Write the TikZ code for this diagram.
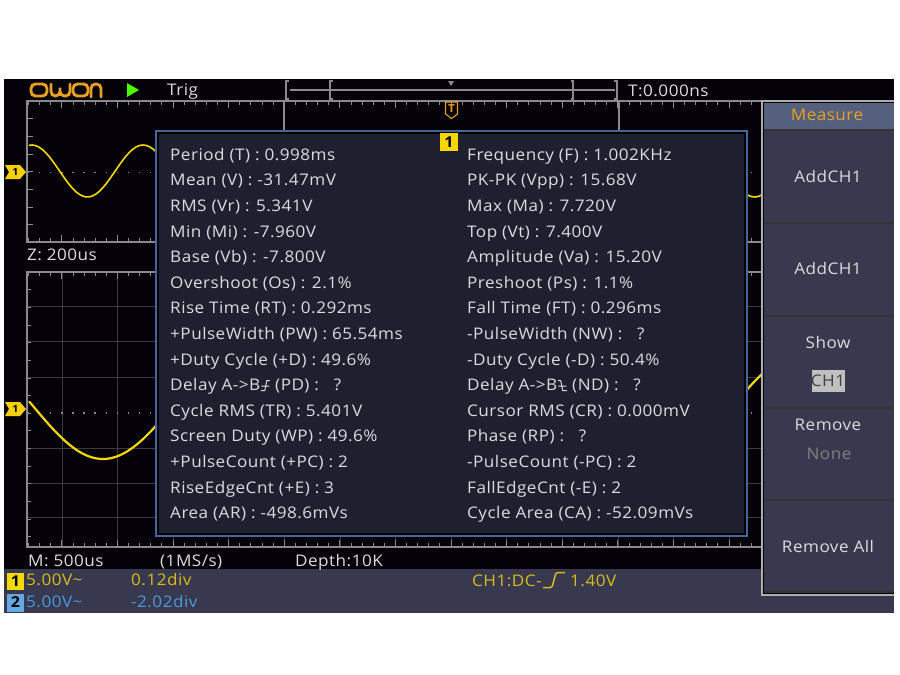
\documentclass[tikz,border=0pt]{standalone}
\usepackage{fontspec}
\setmainfont[FakeStretch=1.07,LetterSpace=3]{Open Sans}
\usepackage{tikz}
\definecolor{scopeblack}{HTML}{040208}
\definecolor{barfill}{HTML}{38384E}
\definecolor{titlefill}{HTML}{55607F}
\definecolor{panelfill}{HTML}{1E2030}
\definecolor{panelblue}{HTML}{44659E}
\definecolor{gridgray}{HTML}{8A8A8A}
\definecolor{dimgray}{HTML}{3C3C3C}
\definecolor{labelgray}{HTML}{DCDCDC}
\definecolor{traceyellow}{HTML}{F5D800}
\definecolor{orangetext}{HTML}{E8A020}
\definecolor{goldtext}{HTML}{D8BC1C}
\definecolor{bluetext}{HTML}{4A9ADF}
\tikzset{
  label/.style={text=labelgray, inner sep=0pt, anchor=base west, font=\fontsize{16}{16}\selectfont},
  menulabel/.style={label, anchor=base},
  goldlabel/.style={label, text=goldtext},
  bluelabel/.style={label, text=bluetext},
  tick/.style={gridgray, line width=0.8pt},
  trace/.style={traceyellow, line width=1.6pt},
  logo/.style={orangetext, line width=2.9pt, line cap=round, rounded corners=4.5pt},
  chbox/.style={inner sep=0pt, minimum size=17pt, text=black, font=\bfseries\fontsize{15}{15}\selectfont},
}
\newcommand{\edgedown}{\tikz[x=1pt,y=-1pt,baseline=0pt]\draw[line width=1pt] (0,-10) -- (3,-10) -- (5,0) -- (9,0) (0.5,-4.5) -- (8.5,-4.5);}
\newcommand{\edgerise}{\tikz[x=1pt,y=-1pt,baseline=0pt]\draw[line width=1pt] (0,0) -- (4,0) -- (6,-10) -- (9,-10) (0.5,-4.5) -- (8.5,-4.5);}
\begin{document}
\begin{tikzpicture}[x=1pt,y=-1pt]
\useasboundingbox (0,0) rectangle (900,675);
\fill[white] (0,0) rectangle (900,675);
\fill[scopeblack] (4,79) rectangle (894,569);
\fill[barfill] (4,569) rectangle (894,613);
% lower window
\foreach \k in {-7,...,5}
  \draw[dimgray] ({451+55.6*\k},272) -- ({451+55.6*\k},547);
\foreach \yy in {306,341,377,448,483,517}
  \draw[dimgray] (27,\yy) -- (762,\yy);
\foreach \k in {-38,...,28} {
  \draw[tick] ({451+11.12*\k},547) -- ({451+11.12*\k},543);
  \draw[tick] ({451+11.12*\k},272) -- ({451+11.12*\k},276);
  \fill[gridgray] ({451+11.12*\k-0.7},412.4) rectangle ({451+11.12*\k+0.7},413.8);
}
\foreach \k in {-7,...,5} {
  \draw[tick] ({451+55.6*\k},547) -- ({451+55.6*\k},540);
  \draw[tick] ({451+55.6*\k},272) -- ({451+55.6*\k},279);
}
\foreach \k in {1,...,15}
  \draw[tick] (27,{272+17.65*\k}) -- (31,{272+17.65*\k});
\draw[gridgray, line width=1.2pt] (762,272) -- (27,272) -- (27,547) -- (762,547);
% upper window
\foreach \k in {-38,...,28} {
  \draw[tick] ({451+11.12*\k},242) -- ({451+11.12*\k},238);
  \draw[tick] ({451+11.12*\k},101) -- ({451+11.12*\k},105);
  \fill[gridgray] ({451+11.12*\k-0.7},172) rectangle ({451+11.12*\k+0.7},173.4);
}
\foreach \k in {-7,...,5} {
  \draw[tick] ({451+55.6*\k},242) -- ({451+55.6*\k},235);
  \draw[tick] ({451+55.6*\k},101) -- ({451+55.6*\k},108);
}
\foreach \k in {1,...,7}
  \draw[tick] (27,{101+17.65*\k}) -- (33,{101+17.65*\k});
\draw[gridgray, line width=1.2pt] (762,101) -- (27,101) -- (27,242) -- (762,242);
\draw[gridgray, line width=1.2pt] (284,101) -- (284,130);
\draw[gridgray, line width=1.2pt] (619,101) -- (619,130);
% traces
\draw[trace] plot[domain=29:762, samples=220] (\x, {171-26*cos(3.2374*(\x-143))});
\draw[trace, line width=2.2pt] plot[domain=29:762, samples=220] (\x, {406+53*cos(1.2857*(\x-103))});
% zoom bar on top
\draw[gridgray, line width=1.4pt] (290,90) -- (615,90);
\draw[gridgray, line width=1.4pt] (289,81) -- (286,81) -- (286,99) -- (289,99);
\draw[gridgray, line width=1.4pt] (333,81) -- (330,81) -- (330,99) -- (333,99);
\draw[gridgray, line width=1.4pt] (571,81) -- (573,81) -- (573,99) -- (571,99);
\draw[gridgray, line width=1.4pt] (614,81) -- (617,81) -- (617,99) -- (614,99);
\fill[gridgray] (448,81) -- (454,81) -- (451,86) -- cycle;
% trigger marker
\draw[orangetext, line width=1.1pt] (445.5,102) -- (457.5,102) -- (457.5,114) -- (451.5,118.5) -- (445.5,114) -- cycle;
\node[inner sep=0pt, text=orangetext, font=\bfseries\fontsize{11}{11}\selectfont] (trigmark) at (451.5,109) {T};
% logo
\draw[logo] (31,84) rectangle (47,96);
\draw[logo] (51,84) -- (51,96) -- (60,96) -- (60,85) -- (60,96) -- (70,96) -- (70,84);
\draw[logo] (73,84) rectangle (88,96);
\draw[logo] (91,97) -- (91,84) -- (101,84) -- (101,97);
\fill[green!70!yellow] (127,83) -- (139,90) -- (127,97) -- cycle;
\node[label] (trig) at (167,95) {Trig};
\node[label] (timepos) at (628,96.5) {T:0.000ns};
\node[label] (zoombase) at (27,260.5) {Z: 200us};
\node[label] (mainbase) at (28,566.5) {M: 500us};
\node[label] (rate) at (160,566.5) {(1MS/s)};
\node[label] (depth) at (295,566.5) {Depth:10K};
% channel markers
\foreach \yy/\name in {172/chupper,409/chlower} {
  \fill[traceyellow!90!orange] (5,\yy-7) -- (20,\yy-7) -- (26,\yy) -- (20,\yy+7) -- (5,\yy+7) -- (9,\yy) -- cycle;
  \node[inner sep=0pt, text=black, font=\bfseries\fontsize{10}{10}\selectfont] (\name) at (15.5,\yy) {1};
}
% measure panel
\draw[panelblue, line width=2pt, fill=black] (156,131) rectangle (747,536);
\fill[panelfill] (159,134) rectangle (744,533);
\node[chbox, fill=traceyellow, minimum size=18pt] (panelch) at (449,142) {1};
\foreach \i/\txt in {
  0/{Period (T) : 0.998ms},
  1/{Mean (V) : -31.47mV},
  2/{RMS (Vr) : 5.341V},
  3/{Min (Mi) : -7.960V},
  4/{Base (Vb) : -7.800V},
  5/{Overshoot (Os) : 2.1\%},
  6/{Rise Time (RT) : 0.292ms},
  7/{+PulseWidth (PW) : 65.54ms},
  8/{+Duty Cycle (+D) : 49.6\%},
  9/{Delay A->B\edgerise{} (PD) :\ \ \ ?},
  10/{Cycle RMS (TR) : 5.401V},
  11/{Screen Duty (WP) : 49.6\%},
  12/{+PulseCount (+PC) : 2},
  13/{RiseEdgeCnt (+E) : 3},
  14/{Area (AR) : -498.6mVs}}
  \node[label] (left\i) at (170,{160.3+25.6*\i}) {\txt};
\foreach \i/\txt in {
  0/{Frequency (F) : 1.002KHz},
  1/{PK-PK (Vpp) : 15.68V},
  2/{Max (Ma) : 7.720V},
  3/{Top (Vt) : 7.400V},
  4/{Amplitude (Va) : 15.20V},
  5/{Preshoot (Ps) : 1.1\%},
  6/{Fall Time (FT) : 0.296ms},
  7/{-PulseWidth (NW) :\ \ \ ?},
  8/{-Duty Cycle (-D) : 50.4\%},
  9/{Delay A->B\edgedown{} (ND) :\ \ \ ?},
  10/{Cursor RMS (CR) : 0.000mV},
  11/{Phase (RP) :\ \ \ ?},
  12/{-PulseCount (-PC) : 2},
  13/{FallEdgeCnt (-E) : 2},
  14/{Cycle Area (CA) : -52.09mVs}}
  \node[label] (right\i) at (467,{160.3+25.6*\i}) {\txt};
% side menu
\fill[black] (762,101) rectangle (894,595);
\fill[barfill] (764,103) rectangle (894,593);
\fill[titlefill] (764,103) rectangle (894,130);
\draw[gridgray!70!white, line width=1.2pt] (894,101) -- (762,101) -- (762,595) -- (894,595);
\foreach \yy in {130,223,316,408,500,592}
  \draw[black!80, line width=1.2pt] (764,\yy) -- (894,\yy);
\node[menulabel, text=orangetext] (menutitle) at (827,120.5) {Measure};
\node[menulabel] (addone) at (828,182.5) {AddCH1};
\node[menulabel] (addtwo) at (828,274.5) {AddCH1};
\node[menulabel] (show) at (828,348.5) {Show};
\fill[lightgray] (812,370) rectangle (845,392);
\node[menulabel, text=black!75] (showch) at (828,386.5) {CH1};
\node[menulabel] (remove) at (828,430.5) {Remove};
\node[menulabel, text=gray] (none) at (829,459.5) {None};
\node[menulabel] (removeall) at (828,552.5) {Remove All};
% bottom bar
\node[chbox, fill=traceyellow, minimum width=17pt, minimum height=17pt] (chone) at (15.5,581) {1};
\node[chbox, fill=bluetext!85!white, minimum width=17pt, minimum height=18pt] (chtwo) at (15.5,602.5) {2};
\node[goldlabel] (voltone) at (26,585) {5.00V\textasciitilde};
\node[goldlabel] (offsetone) at (131,585) {0.12div};
\node[bluelabel] (volttwo) at (26,607.5) {5.00V\textasciitilde};
\node[bluelabel] (offsettwo) at (131,607.5) {-2.02div};
\node[goldlabel] (trigsource) at (472,586) {CH1:DC-};
\draw[goldtext, line width=1.5pt, rounded corners=1.5pt] (543,587.5) -- (552,587.5) -- (556,572.5) -- (565,572.5);
\node[goldlabel] (triglevel) at (570,586) {1.40V};
\end{tikzpicture}
\end{document}
